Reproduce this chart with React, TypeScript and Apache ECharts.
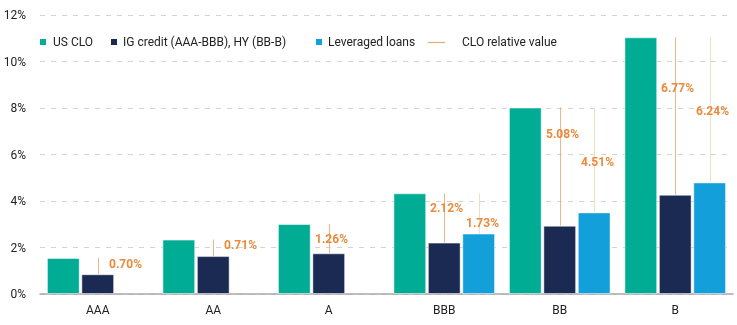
import React, { useEffect, useRef } from "react";
import * as echarts from "echarts";

const CATEGORIES = ["AAA", "AA", "A", "BBB", "BB", "B"];
const US_CLO = [1.55, 2.34, 3.01, 4.33, 8.02, 11.04];
const IG_HY = [0.85, 1.63, 1.75, 2.21, 2.94, 4.27];
const LEV_LOANS: (number | null)[] = [null, null, null, 2.6, 3.51, 4.8];
const REL_VS_IG = [0.7, 0.71, 1.26, 2.12, 5.08, 6.77];
const REL_VS_LOANS: (number | null)[] = [null, null, null, 1.73, 4.51, 6.24];
const Y_TICKS = { min: 0, max: 12, interval: 2 };

// label layout (fraction along the line from bottom, horizontal px offset)
const LABEL_FRAC_IG = [0.63, 0.68, 0.49, 0.7, 0.78, 0.68];
const LABEL_DX_IG = [27, 27, 2, 2, 2, 2];
const LABEL_FRAC_LOANS = [0, 0, 0, 0.27, 0.48, 0.49];
const LABEL_DX_LOANS = [0, 0, 0, 3, 3, 2];

const TEAL = "#00ad94";
const NAVY = "#1b2a52";
const BLUE = "#139fd9";
const ORANGE_TEXT = "#e98a3c";
const LINE_IG = "#efb68c";
const LINE_LOANS = "#f7dbc3";
const FONT = "Roboto";

const BAR_CAT_GAP = 0.12;
const BAR_GAP = 0.05;

export default function App() {
  const ref = useRef<HTMLDivElement>(null);
  useEffect(() => {
    if (!ref.current) return;
    const chart = echarts.init(ref.current, undefined, { renderer: "svg" });

    const barW = (1 - BAR_CAT_GAP) / (3 + 2 * BAR_GAP);
    const loansOffsetFrac = barW * (1 + BAR_GAP);

    const igData = CATEGORIES.map((_, i) => [i, IG_HY[i], US_CLO[i], REL_VS_IG[i], LABEL_FRAC_IG[i], LABEL_DX_IG[i]]);
    const loansData = CATEGORIES.map((_, i) =>
      LEV_LOANS[i] == null ? null : [i, LEV_LOANS[i], US_CLO[i], REL_VS_LOANS[i], LABEL_FRAC_LOANS[i], LABEL_DX_LOANS[i]]
    ).filter((d) => d !== null);

    const makeRender = (offsetFrac: number, stroke: string) => (params: any, api: any) => {
      const i = api.value(0);
      const lo = api.coord([i, api.value(1)]);
      const hi = api.coord([i, api.value(2)]);
      const bw = api.size([1, 0])[0];
      const x = Math.round(lo[0] + offsetFrac * bw) + 0.5;
      const frac = api.value(4);
      const dx = api.value(5);
      const y = lo[1] + (hi[1] - lo[1]) * frac;
      return {
        type: "group",
        children: [
          { type: "line", shape: { x1: x, y1: lo[1], x2: x, y2: hi[1] }, style: { stroke, lineWidth: 1 } },
          {
            type: "text",
            x: x + dx,
            y,
            style: {
              text: Number(api.value(3)).toFixed(2) + "%",
              fill: ORANGE_TEXT,
              font: `bold 12px ${FONT}`,
              align: "center",
              verticalAlign: "middle",
            },
          },
        ],
      };
    };

    const barStyle = (color: string) => ({ color, borderColor: "rgba(255,255,255,0.5)", borderWidth: 1 });

    chart.setOption({
      animation: false,
      textStyle: { fontFamily: FONT },
      grid: { left: 40, right: 4, top: 15, bottom: 31, containLabel: false },
      xAxis: {
        type: "category",
        data: CATEGORIES,
        axisTick: { show: false },
        axisLine: { lineStyle: { color: "#a8a8a8", width: 1.5 } },
        axisLabel: { color: "#222", fontSize: 12, margin: 10, fontFamily: FONT },
      },
      yAxis: {
        type: "value",
        min: Y_TICKS.min,
        max: Y_TICKS.max,
        interval: Y_TICKS.interval,
        axisLine: { show: false },
        axisTick: { show: false },
        axisLabel: { color: "#222", fontSize: 12, margin: 14, formatter: "{value}%", fontFamily: FONT },
        splitLine: { lineStyle: { color: "#d4d4d4", type: [5, 6], width: 1 } },
      },
      series: [
        { name: "US CLO", type: "bar", data: US_CLO, itemStyle: barStyle(TEAL), barGap: `${BAR_GAP * 100}%`, barCategoryGap: `${BAR_CAT_GAP * 100}%` },
        { name: "IG credit (AAA-BBB), HY (BB-B)", type: "bar", data: IG_HY, itemStyle: barStyle(NAVY) },
        { name: "Leveraged loans", type: "bar", data: LEV_LOANS, itemStyle: barStyle(BLUE) },
        { name: "CLO relative value", type: "custom", renderItem: makeRender(0, LINE_IG), data: igData, z: 5 },
        { name: "CLO relative value (loans)", type: "custom", renderItem: makeRender(loansOffsetFrac, LINE_LOANS), data: loansData, z: 4 },
      ],
      graphic: [
        { type: "rect", left: 40, top: 39, shape: { width: 6, height: 6 }, style: { fill: TEAL } },
        { type: "text", x: 53, y: 42, style: { text: "US CLO", fill: "#222", font: `12px ${FONT}`, verticalAlign: "middle" } },
        { type: "rect", left: 111, top: 39, shape: { width: 6, height: 6 }, style: { fill: NAVY } },
        { type: "text", x: 123, y: 42, style: { text: "IG credit (AAA-BBB), HY (BB-B)", fill: "#222", font: `12px ${FONT}`, verticalAlign: "middle" } },
        { type: "rect", left: 316, top: 39, shape: { width: 6, height: 6 }, style: { fill: BLUE } },
        { type: "text", x: 328, y: 42, style: { text: "Leveraged loans", fill: "#222", font: `12px ${FONT}`, verticalAlign: "middle" } },
        { type: "line", shape: { x1: 428, y1: 42.5, x2: 445, y2: 42.5 }, style: { stroke: "#eba878", lineWidth: 1.2 } },
        { type: "text", x: 462, y: 42, style: { text: "CLO relative value", fill: "#222", font: `12px ${FONT}`, verticalAlign: "middle" } },
      ],
    });
    return () => chart.dispose();
  }, []);
  return <div ref={ref} style={{ position: "fixed", left: 0, top: 0, width: 737, height: 325 }} />;
}
